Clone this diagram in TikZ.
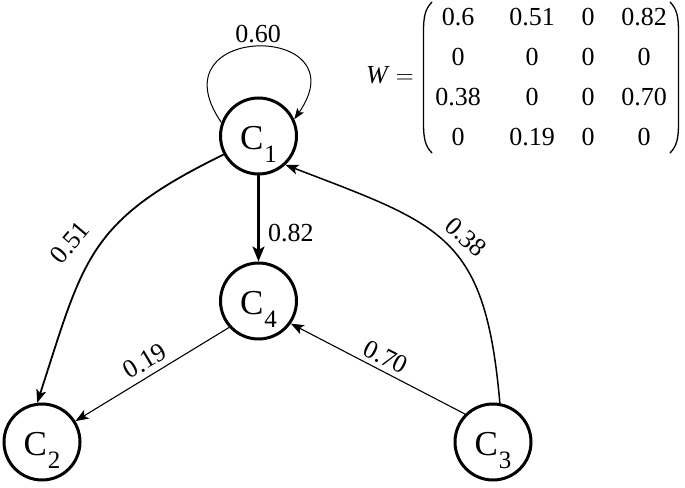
\documentclass[tikz,border=0pt]{standalone}
\usepackage{fontspec}
\setmainfont{Liberation Serif}
\usetikzlibrary{arrows.meta}
\newcommand\Csub[1]{C\kern1pt\raisebox{-13pt}{\fontsize{25}{25}\selectfont #1}}
\begin{document}
\begin{tikzpicture}[x=1pt,y=1pt,
  cnode/.style={circle,draw,line width=3pt,minimum size=76pt,inner sep=0pt,
    text height=28pt,text depth=0pt,font=\fontsize{35}{35}\selectfont},
  lbl/.style={inner sep=0pt,font=\fontsize{26}{26}\selectfont},
  ment/.style={lbl,anchor=base},
  tip/.style={-{Stealth[length=13pt,width=10pt,inset=3pt]}},
  bigtip/.style={-{Stealth[length=15pt,width=12pt,inset=3.5pt]}},
  smalltip/.style={-{Stealth[length=11pt,width=8pt,inset=2.5pt]}},
  paren/.style={line width=1.3pt,line cap=round}
]
\useasboundingbox (0,0) rectangle (685,487);

% nodes
\node[cnode] (C1) at (258.5,351) {\Csub{1}};
\node[cnode] (C4) at (258.5,186) {\Csub{4}};
\node[cnode] (C2) at (42,45) {\Csub{2}};
\node[cnode] (C3) at (493,45) {\Csub{3}};

% self loop
\draw[line width=1pt,smalltip] (C1.160) .. controls (152,465) and (362,465) .. (C1.25);
\node[lbl] (l60) at (258,453) {0.60};

% C1 -> C4
\draw[line width=2.4pt,bigtip] (C1.south) -- (C4.north);
\node[lbl,anchor=west] (l82) at (268,254) {0.82};

% C1 -> C2
\draw[line width=1.8pt,tip] (C1.208) to[out=206,in=72,looseness=1.25] (C2.97);
\node[lbl,rotate=50] (l51) at (70,244) {0.51};

% C3 -> C1
\draw[line width=1.5pt,tip] (C3.80) to[out=95,in=-21,looseness=1.35] (C1.313);
\node[lbl,rotate=-42] (l38) at (466,250) {0.38};

% C3 -> C4
\draw[line width=1.1pt,tip] (C3.135) -- (C4.325);
\node[lbl,rotate=-27] (l70) at (386,130) {0.70};

% C4 -> C2
\draw[line width=1.1pt,tip] (C4.222) -- (C2.32);
\node[lbl,rotate=31] (l19) at (145,126) {0.19};

% matrix W
\node[lbl,anchor=base west] (W) at (366,403.5) {\textit{W}\kern6pt$=$};
\node[ment] (m11) at (458,461.5) {0.6};
\node[ment] (m12) at (532,461.5) {0.51};
\node[ment] (m13) at (588,461.5) {0};
\node[ment] (m14) at (644,461.5) {0.82};
\node[ment] (m21) at (458,421.5) {0};
\node[ment] (m22) at (532,421.5) {0};
\node[ment] (m23) at (588,421.5) {0};
\node[ment] (m24) at (644,421.5) {0};
\node[ment] (m31) at (458,381.5) {0.38};
\node[ment] (m32) at (532,381.5) {0};
\node[ment] (m33) at (588,381.5) {0};
\node[ment] (m34) at (644,381.5) {0.70};
\node[ment] (m41) at (458,341.5) {0};
\node[ment] (m42) at (532,341.5) {0.19};
\node[ment] (m43) at (588,341.5) {0};
\node[ment] (m44) at (644,341.5) {0};
\draw[paren] (432,485) .. controls (425,478) and (423.5,470) .. (423.5,455) -- (423.5,364) .. controls (423.5,349) and (425,341) .. (432,334);
\draw[paren] (670,485) .. controls (677,478) and (678.5,470) .. (678.5,455) -- (678.5,364) .. controls (678.5,349) and (677,341) .. (670,334);
\end{tikzpicture}
\end{document}
